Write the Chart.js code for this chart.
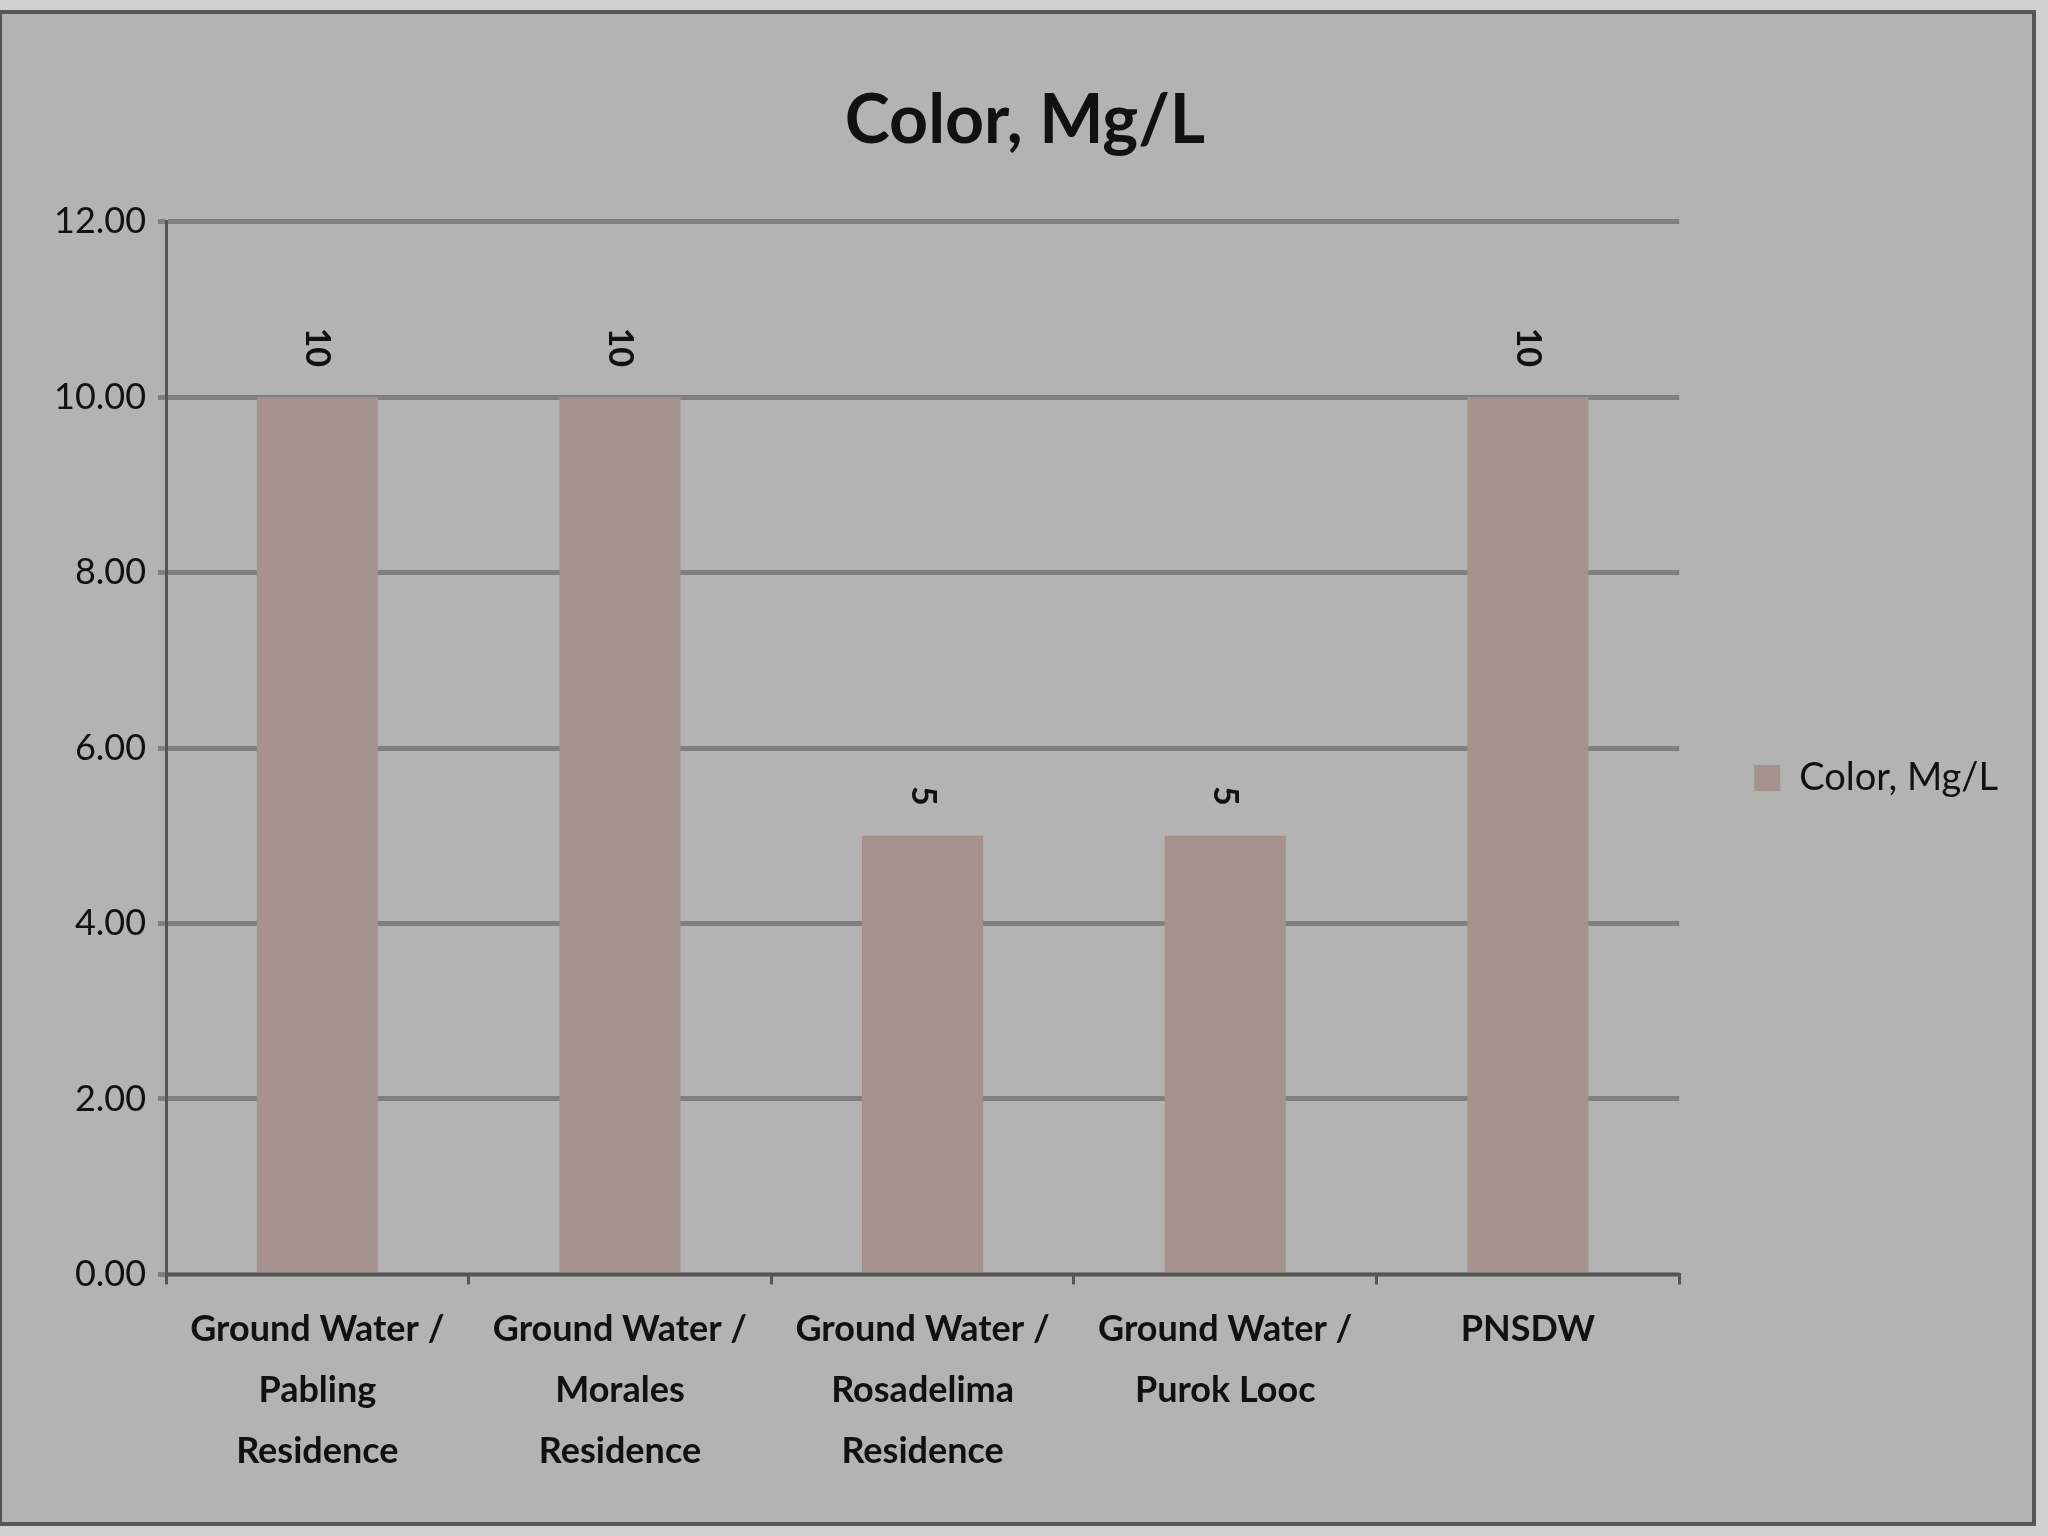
<!DOCTYPE html>
<html><head><script src="https://cdn.jsdelivr.net/npm/chart.js@4"></script>
<style>body{margin:0;background:#d0d0d0}canvas{display:block}</style></head>
<body><canvas id="c" width="2048" height="1536"></canvas>
<script>
const categories=[["Ground Water /","Pabling","Residence"],["Ground Water /","Morales","Residence"],["Ground Water /","Rosadelima","Residence"],["Ground Water /","Purok Looc"],"PNSDW"];
const values=[10,10,5,5,10];
const seriesName="Color, Mg/L";
const FONT="Lato";
const bg={id:'bg',beforeDraw(c){const x=c.ctx;x.save();x.fillStyle='#b3b3b3';x.fillRect(0,12,2034,1512);x.strokeStyle='#555';x.lineWidth=4;x.strokeRect(0,12,2034,1512);x.restore();}};
const labels={id:'lbl',afterDatasetsDraw(c){const x=c.ctx;const m=c.getDatasetMeta(0);x.save();x.font='bold 34px '+FONT;x.fillStyle='#111';x.textBaseline='middle';
m.data.forEach((b,i)=>{x.save();x.translate(b.x,b.y-30);x.rotate(Math.PI/2);x.textAlign='right';x.fillText(String(values[i]),0,0);x.restore();});x.restore();}};
new Chart(document.getElementById('c'),{type:'bar',
data:{labels:categories,datasets:[{label:seriesName,data:values,backgroundColor:'#a5918d',barPercentage:0.4,categoryPercentage:1}]},
options:{responsive:false,devicePixelRatio:1,animation:false,
layout:{padding:{left:42,top:60,right:40,bottom:40}},
plugins:{title:{display:true,text:seriesName,color:'#111',font:{family:FONT,size:68,weight:'bold'},padding:{top:20,bottom:60}},
legend:{position:'right',labels:{color:'#111',boxWidth:26,boxHeight:26,font:{family:FONT,size:38},padding:75}},tooltip:{enabled:false}},
scales:{y:{min:0,max:12,ticks:{stepSize:2,color:'#111',font:{family:FONT,size:36},callback:v=>v.toFixed(2),padding:12},grid:{color:'#808080',lineWidth:5,tickLength:8,drawTicks:true},border:{color:'#555',width:3}},
x:{ticks:{color:'#111',font:{family:FONT,size:36,weight:'bold',lineHeight:1.7},maxRotation:0,autoSkip:false,padding:14},grid:{display:true,drawOnChartArea:false,color:'#555',tickLength:10,lineWidth:3,offset:true},border:{color:'#555',width:3}}}},
plugins:[bg,labels]});
</script></body></html>
